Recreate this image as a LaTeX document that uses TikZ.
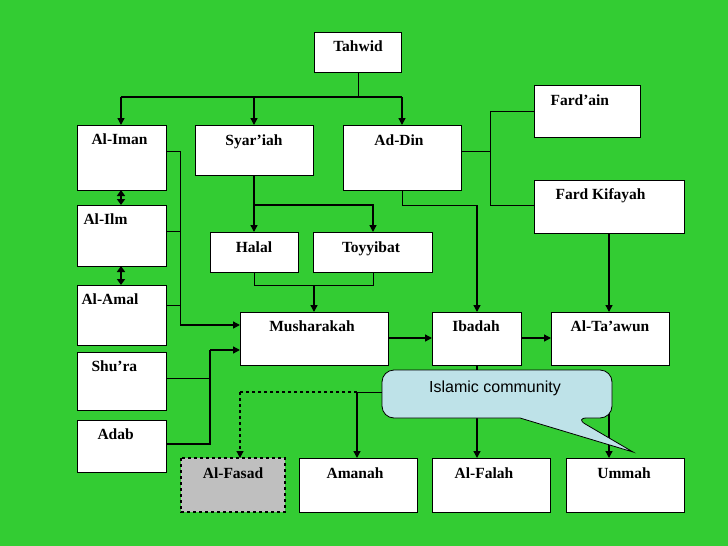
\documentclass[tikz,border=0pt]{standalone}
\usepackage{fontspec}
\setmainfont{Liberation Serif}
\newfontfamily\sansf{Liberation Sans}
\usetikzlibrary{arrows.meta,shapes.callouts}
\definecolor{bg}{RGB}{51,204,51}
\definecolor{callb}{RGB}{190,226,232}
\begin{document}
\begin{tikzpicture}[x=1pt,y=-1pt,
  bx/.style={draw=black,fill=white,line width=0.8pt,inner sep=0pt},
  lb/.style={font=\bfseries\fontsize{15.5}{17}\selectfont,anchor=north},
  ln/.style={line width=0.7pt},
  ar/.style={line width=1.4pt,-{Triangle[length=7pt,width=7pt]}},
  dar/.style={line width=1.6pt,{Triangle[length=6pt,width=8pt]}-{Triangle[length=6pt,width=8pt]}}]
\fill[bg] (0,0) rectangle (728,546);
\useasboundingbox (0,0) rectangle (728,546);
% boxes
\draw[bx] (314,32) rectangle (401,72); \node[lb] (tahwid) at (358,37) {Tahwid};
\draw[bx] (77,125) rectangle (166,190); \node[lb,anchor=north west] (iman) at (88,130) {Al-Iman};
\draw[bx] (195,125) rectangle (313,175); \node[lb] (syar) at (254,131) {Syar’iah};
\draw[bx] (343,125) rectangle (461,190); \node[lb] (addin) at (399,131) {Ad-Din};
\draw[bx] (534,85) rectangle (640,137); \node[lb,anchor=north west] (fardain) at (547,91) {Fard’ain};
\draw[bx] (534,180) rectangle (684,233); \node[lb,anchor=north west] (fardk) at (552,185) {Fard Kifayah};
\draw[bx] (77,205) rectangle (166,266); \node[lb,anchor=north west] (ilm) at (80,210) {Al-Ilm};
\draw[bx] (210,232) rectangle (298,272); \node[lb] (halal) at (254,238) {Halal};
\draw[bx] (313,232) rectangle (432,272); \node[lb] (toy) at (371,238) {Toyyibat};
\draw[bx] (77,285) rectangle (166,345); \node[lb,anchor=north west] (amal) at (78,290) {Al-Amal};
\draw[bx] (77,352) rectangle (166,410); \node[lb,anchor=north west] (shura) at (88,357) {Shu’ra};
\draw[bx] (77,420) rectangle (166,472); \node[lb,anchor=north west] (adab) at (94,425) {Adab};
\draw[bx] (240,312) rectangle (388,365); \node[lb] (mush) at (312,317) {Musharakah};
\draw[bx] (432,312) rectangle (521,365); \node[lb] (ibadah) at (476,317) {Ibadah};
\draw[bx] (551,312) rectangle (669,365); \node[lb] (taawun) at (610,317) {Al-Ta’awun};
\draw[bx,fill=black!25,dashed,line width=1.2pt] (181,458) rectangle (285,512); \node[lb] (fasad) at (233,464) {Al-Fasad};
\draw[bx] (299,458) rectangle (417,512); \node[lb] (amanah) at (355,464) {Amanah};
\draw[bx] (432,458) rectangle (550,512); \node[lb] (falah) at (484,464) {Al-Falah};
\draw[bx] (566,458) rectangle (684,512); \node[lb] (ummah) at (624,464) {Ummah};
% connectors
\coordinate (t1) at (358,72); \coordinate (t2) at (358,97);
\draw[ln] (t1) -- (t2);
\draw[line width=1.4pt] (121,97) -- (402,97);
\draw[ar] (121,97) -- (121,125);
\draw[ar] (254,97) -- (254,125);
\draw[ar] (402,97) -- (402,125);
\draw[dar] (121,190) -- (121,205);
\draw[dar] (121,266) -- (121,285);
\draw[ln] (166,151) -- (180,151) -- (180,325);
\draw[ln] (166,231) -- (180,231);
\draw[ln] (166,305) -- (180,305);
\draw[ar] (180,325) -- (240,325);
\draw[ln] (166,378) -- (210,378);
\draw[line width=1.4pt] (166,444) -- (210,444) -- (210,350);
\draw[ar] (210,350) -- (240,350);
\draw[ar] (254,175) -- (254,232);
\draw[ar] (254,205) -- (373,205) -- (373,232);
\draw[ln] (254,272) -- (254,285) -- (373,285) -- (373,272);
\draw[ar] (314,285) -- (314,312);
\draw[ln] (461,151) -- (490,151);
\draw[ln] (534,111) -- (490,111) -- (490,205) -- (534,205);
\draw[ln] (402,190) -- (402,205) -- (477,205);
\draw[ar] (477,205) -- (477,312);
\draw[ar] (609,233) -- (609,312);
\draw[ar] (388,338) -- (432,338);
\draw[ar] (521,338) -- (551,338);
\draw[ar] (477,365) -- (477,458);
\draw[ln] (357,392) -- (609,392);
\draw[line width=1.2pt,dashed] (357,392) -- (240,392);
\draw[line width=1.2pt,dashed,-{Triangle[length=7pt,width=7pt]}] (240,392) -- (240,458);
\draw[ar] (357,392) -- (357,458);
\draw[ar] (609,392) -- (609,458);
% callout
\draw[fill=callb,line width=0.8pt,rounded corners=12pt]
  (382,370) -- (612,370) -- (612,418) -- (575,418) [sharp corners] -- (633,452) -- (520,418) [rounded corners=12pt] -- (382,418) -- cycle;
\node[font=\sansf\fontsize{16}{18}\selectfont] (ic) at (495,388) {Islamic community};
\end{tikzpicture}
\end{document}
